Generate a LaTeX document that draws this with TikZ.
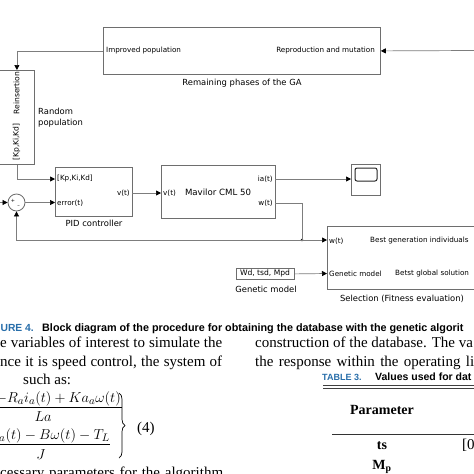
\documentclass[tikz,border=0pt]{standalone}
\usepackage{fontspec}
\setmainfont{Liberation Serif}
\newfontfamily\dv{DejaVu Sans}
\newfontfamily\hv{Liberation Sans}
\usetikzlibrary{arrows.meta,decorations.pathreplacing}
\definecolor{ieeeblue}{RGB}{40,110,170}
\definecolor{lin}{RGB}{125,125,125}
\definecolor{bord}{RGB}{110,110,110}
\tikzset{
 blk/.style={draw=bord, line width=0.8pt, inner sep=0pt, anchor=north west},
 conn/.style={draw=lin, line width=0.7pt, -{Triangle[length=5pt,width=5pt,color=black]}},
 wire/.style={draw=lin, line width=0.7pt},
 lab/.style={font=\dv\fontsize{7.2}{8}\selectfont, inner sep=0pt},
 rlab/.style={font=\dv\fontsize{7.6}{8}\selectfont, inner sep=0pt, rotate=90},
 gcap/.style={font=\dv\fontsize{8.4}{11}\selectfont, inner sep=0pt},
 bigl/.style={font=\dv\fontsize{8.6}{10}\selectfont, inner sep=0pt},
 bodyt/.style={font=\fontsize{15}{18}\selectfont, inner sep=0pt, anchor=base west},
 capt/.style={font=\hv\bfseries\fontsize{10.8}{13}\selectfont, inner sep=0pt, anchor=base west},
 captlab/.style={font=\hv\bfseries\fontsize{10.3}{13}\selectfont, text=ieeeblue, inner sep=0pt, anchor=base west},
 tb/.style={font=\bfseries\fontsize{14}{16}\selectfont, inner sep=0pt, anchor=base},
 eqt/.style={font=\fontsize{15}{17}\selectfont, inner sep=0pt},
}
\begin{document}
\begin{tikzpicture}[x=1pt,y=-1pt]
\useasboundingbox (0,0) rectangle (474,474);
\clip (0,0) rectangle (474,474);
\fill[white] (0,0) rectangle (474,474);

% blocks
\node[blk, minimum width=277pt, minimum height=47pt] (ga) at (103,27) {};
\node[blk, minimum width=35pt, minimum height=94pt] (vb) at (-1,70) {};
\node[blk, minimum width=77pt, minimum height=49pt] (pid) at (55,167) {};
\node[blk, minimum width=114pt, minimum height=53pt] (mav) at (161,165) {};
\node[blk, minimum width=29pt, minimum height=31pt] (scope) at (351,164) {};
\node[blk, minimum width=180pt, minimum height=63pt] (sel) at (327,226) {};
\node[blk, minimum width=58pt, minimum height=11pt] (gm) at (236,268) {};
\node[draw=bord, line width=0.8pt, circle, minimum size=17pt, inner sep=0pt] (sum) at (16.5,202.5) {};
\node[circle, fill=black, inner sep=0pt, minimum size=2.6pt] (jn) at (302,240) {};
\draw[draw=black!85, line width=1pt, rounded corners=2pt] (355,168) rectangle (377,181);

% ports
\coordinate (gaIn) at (474,50.5);
\coordinate (sumIn) at (0,202.5);
\coordinate (pidK) at (55,179);
\coordinate (pidE) at (55,202.5);
\coordinate (pidV) at (132,193);
\coordinate (mavV) at (161,193);
\coordinate (mavIa) at (275,179);
\coordinate (mavW) at (275,203);
\coordinate (scIn) at (351,179);
\coordinate (selW) at (327,240);
\coordinate (selG) at (327,273.5);

% connectors
\draw[conn] (gaIn) -- (ga.east);
\draw[conn] (ga.west) -| (vb.north);
\draw[conn] (vb.south) |- (pidK);
\draw[conn] (sumIn) -- (sum.west);
\draw[conn] (sum.east) -- (pidE);
\draw[conn] (pidV) -- (mavV);
\draw[conn] (mavIa) -- (scIn);
\draw[wire] (mavW) -| (jn.center);
\draw[conn] (jn.center) -- (selW);
\draw[conn] (jn.center) -| (sum.south);
\draw[conn] (gm.east) -- (selG);

% labels
\node[lab, anchor=west] at (106,51) {Improved population};
\node[lab, anchor=east] at (375,51) {Reproduction and mutation};
\node[gcap] at (242,83) {Remaining phases of the GA};
\node[rlab] at (16.5,93) {Reinsertion};
\node[rlab] at (16.5,142) {[Kp,Ki,Kd]};
\node[gcap, anchor=west, align=left] at (38,117.5) {Random\\population};
\node[lab, anchor=west] at (57,179) {[Kp,Ki,Kd]};
\node[lab, anchor=west] at (57,203) {error(t)};
\node[lab, anchor=east] at (130,193) {v(t)};
\node[gcap] at (94,223) {PID controller};
\node[lab, anchor=west] at (163,193) {v(t)};
\node[bigl] at (218,192) {Mavilor CML 50};
\node[lab, anchor=east] at (273,179) {ia(t)};
\node[lab, anchor=east] at (273,203) {w(t)};
\node[lab, anchor=west] at (329,241) {w(t)};
\node[lab, anchor=west] at (370,241) {Best generation individuals};
\node[lab, anchor=west] at (329,274) {Genetic model};
\node[lab, anchor=west] at (395,274) {Betst global solution};
\node[gcap] at (402,299) {Selection (Fitness evaluation)};
\node[lab, font=\dv\fontsize{7.6}{8}\selectfont] at (265,273.5) {Wd, tsd, Mpd};
\node[gcap] at (266,289) {Genetic model};
\node[font=\dv\fontsize{5}{5}\selectfont, inner sep=0pt] at (13,200.5) {+};
\node[font=\dv\fontsize{5}{5}\selectfont, inner sep=0pt] at (18.5,206.5) {\textendash};

% caption
\node[captlab, anchor=base east] at (34,331) {GURE 4.};
\node[capt] at (42,331) {Block diagram of the procedure for obtaining the database with the genetic algorit};

% body text
\node[bodyt] at (0,347) {\makebox[222pt][s]{e variables of interest to simulate the}};
\node[bodyt] at (0,366) {\makebox[222pt][s]{nce it is speed control, the system of}};
\node[bodyt] at (23,384.5) {such as:};
\node[bodyt] at (0,477) {\makebox[223pt][s]{cessary parameters for the algorithm}};
\node[bodyt] at (255,347) {construction of the database. The va};
\node[bodyt] at (255,366) {\makebox[219pt][s]{the response within the operating li}};

% equation
\node[eqt, anchor=base east] at (121,402) {$-R_a i_a(t)+Ka_a\omega(t)$};
\draw[line width=0.6pt] (0,407.5) -- (122,407.5);
\node[eqt, anchor=base] at (43,421) {$La$};
\node[eqt, anchor=base east] at (110,439) {$Ki_a(t)-B\omega(t)-T_L$};
\draw[line width=0.6pt] (0,444.5) -- (110,444.5);
\node[eqt, anchor=base] at (41,459) {$J$};
\draw[decorate, decoration={brace, amplitude=6pt}, line width=0.7pt] (119,393) -- (119,458);
\node[bodyt] at (137,432) {(4)};

% table
\node[captlab, font=\hv\bfseries\fontsize{9}{11}\selectfont] at (322,380) {TABLE 3.};
\node[capt, font=\hv\bfseries\fontsize{10.5}{13}\selectfont] at (375,380) {Values used for dat};
\draw[line width=1.6pt, draw=black!75] (323,385.5) -- (474,385.5);
\draw[line width=0.6pt, draw=black!75] (323,388.5) -- (474,388.5);
\node[tb] at (382,414) {Parameter};
\draw[line width=1pt, draw=black!80] (332,434) -- (474,434);
\node[tb] at (382,449.5) {ts};
\node[tb] at (382,469) {M\textsubscript{p}};
\node[font=\fontsize{15}{16}\selectfont, inner sep=0pt, anchor=base west] at (462,449.5) {[0};
\end{tikzpicture}
\end{document}
